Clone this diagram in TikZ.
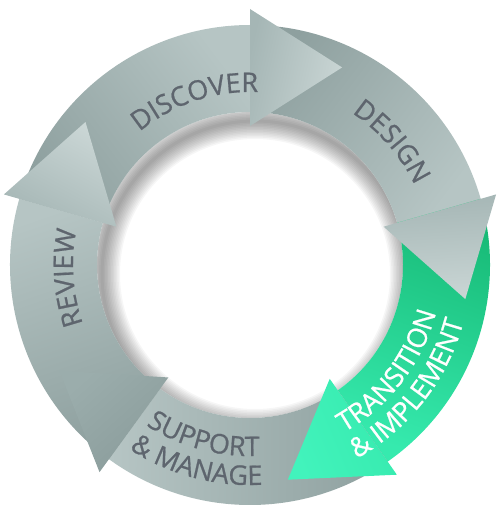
\documentclass[tikz,border=0pt]{standalone}
\usepackage{fontspec}
\setmainfont{Open Sans}
\newfontfamily\labelfont[FakeBold=0.7]{Open Sans}
\usetikzlibrary{decorations.text}

\definecolor{ringDark}{HTML}{8EA09F}
\definecolor{ringLight}{HTML}{B6C5C4}
\definecolor{headDark}{HTML}{A5B6B5}
\definecolor{headLight}{HTML}{CAD6D5}
\definecolor{supportHead}{HTML}{8A9C9B}
\definecolor{supportHeadLight}{HTML}{9BADAC}
\definecolor{greenDark}{HTML}{17B975}
\definecolor{greenLight}{HTML}{36EAAE}
\definecolor{greenTip}{HTML}{42F3BC}
\definecolor{labelGray}{HTML}{5E656E}

\newcommand{\lbl}{\labelfont\fontsize{27}{27}\selectfont\color{labelGray}}
\newcommand{\lblw}{\labelfont\fontsize{27}{27}\selectfont\color{white}}

\tikzstyle{label} = [decorate, decoration={text along path, text align=center}]

\begin{document}
\begin{tikzpicture}[x=1pt, y=1pt]
    \useasboundingbox (-250,-254) rectangle (250,265);

    % soft shadow inside the ring
    \begin{scope}
        \clip (0,0) circle (153);
        \foreach \w in {3,6,...,36}
            \draw[black, opacity=0.035, line width=\w] (5,-9) circle (153);
    \end{scope}

    % bands
    \foreach \s/\e/\cA/\cB in {164/90/ringDark/ringLight, 90/16/ringDark/ringLight,
        16/-55/greenDark/greenLight, -55/-126/ringDark/ringLight, 234/164/ringDark/ringLight}{
        \pgfmathsetmacro{\ang}{(\s+\e)/2-180}
        \path[bottom color=\cA, top color=\cB, shading angle=\ang]
            (\s:240) arc[start angle=\s, end angle=\e, radius=240]
            -- (\e:153) arc[start angle=\e, end angle=\s, radius=153] -- cycle;
    }

    % heads
    \foreach \b/\cA/\cB in {90/headDark/headLight, 16/headDark/headLight,
        -55/greenLight/greenTip, -126/supportHead/supportHeadLight, 164/headDark/headLight}{
        \pgfmathsetmacro{\ang}{\b-192.5}
        \path[bottom color=\cA, top color=\cB, shading angle=\ang]
            (\b:256) -- ({\b-25}:218) -- (\b:139) -- cycle;
    }

    % labels
    \path[label, decoration={text={|\lbl|DISCOVER}}]
        (145:173) arc[start angle=145, end angle=72, radius=173];
    \path[label, decoration={text={|\lbl|DESIGN}}]
        (78:183) arc[start angle=78, end angle=4, radius=183];
    \path[label, decoration={text={|\lbl|REVIEW}}]
        (222:177) arc[start angle=222, end angle=146, radius=177];
    \path[label, decoration={text={|\lblw|TRANSITION}}]
        (-78:192) arc[start angle=-78, end angle=3, radius=192];
    \path[label, decoration={text={|\lblw|{\&} IMPLEMENT}}]
        (-80:221) arc[start angle=-80, end angle=4, radius=221];
    \path[label, decoration={text={|\lbl|SUPPORT}}]
        (-143:191) arc[start angle=-143, end angle=-67, radius=191];
    \path[label, decoration={text={|\lbl|{\&} MANAGE}}]
        (-143:220) arc[start angle=-143, end angle=-67, radius=220];
\end{tikzpicture}
\end{document}
